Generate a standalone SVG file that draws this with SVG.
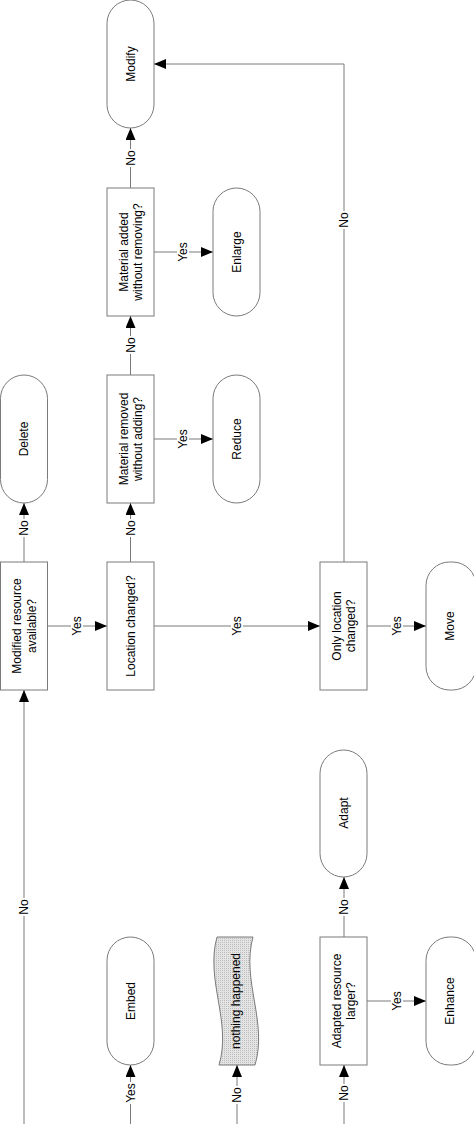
<svg xmlns="http://www.w3.org/2000/svg" width="474" height="1124" viewBox="0 0 474 1124">
<style>
.n{fill:#fff;stroke:#7a7a7a;stroke-width:1}
.t{font-family:"Liberation Sans",Arial,sans-serif;font-size:12px;fill:#000;text-anchor:middle;dominant-baseline:central}
.e{fill:none;stroke:#7a7a7a;stroke-width:1}
.a{marker-end:url(#ah)}
.lb{fill:#fff}
</style>
<defs>
<marker id="ah" markerWidth="12" markerHeight="10" refX="12" refY="5" orient="auto" markerUnits="userSpaceOnUse">
<path d="M0,0 L12,5 L0,10 Z" fill="#000"/>
</marker>
<pattern id="dots" width="2" height="2" patternUnits="userSpaceOnUse">
<rect width="2" height="2" fill="#e4e4e4"/>
<rect width="1" height="1" fill="#bdbdbd"/>
</pattern>
</defs>

<g id="connectors">
<path class="e a" d="M130.5,188 V128"/>
<path class="e a" d="M154,252 H213"/>
<path class="e a" d="M130.5,375 V316"/>
<path class="e a" d="M154,439 H213"/>
<path class="e a" d="M130.5,562 V503"/>
<path class="e a" d="M24,562 V503"/>
<path class="e a" d="M48,626 H107"/>
<path class="e a" d="M154,626 H320"/>
<path class="e a" d="M344,562 V64 H154"/>
<path class="e a" d="M367,626 H426"/>
<path class="e a" d="M24,1124 V690"/>
<path class="e a" d="M130.5,1124 V1065"/>
<path class="e a" d="M237,1124 V1065"/>
<path class="e a" d="M344,1124 V1065"/>
<path class="e a" d="M344,937 V877"/>
<path class="e a" d="M367,1001 H426"/>
<g id="labels">
<g transform="translate(130.5,158) rotate(-90)"><rect class="lb" x="-9" y="-6" width="18" height="12"/><text class="t">No</text></g>
<g transform="translate(183,252) rotate(-90)"><rect class="lb" x="-11" y="-6" width="22" height="12"/><text class="t">Yes</text></g>
<g transform="translate(130.5,345) rotate(-90)"><rect class="lb" x="-9" y="-6" width="18" height="12"/><text class="t">No</text></g>
<g transform="translate(183,439) rotate(-90)"><rect class="lb" x="-11" y="-6" width="22" height="12"/><text class="t">Yes</text></g>
<g transform="translate(130.5,528) rotate(-90)"><rect class="lb" x="-9" y="-6" width="18" height="12"/><text class="t">No</text></g>
<g transform="translate(24,528) rotate(-90)"><rect class="lb" x="-9" y="-6" width="18" height="12"/><text class="t">No</text></g>
<g transform="translate(77,626) rotate(-90)"><rect class="lb" x="-11" y="-6" width="22" height="12"/><text class="t">Yes</text></g>
<g transform="translate(237,626) rotate(-90)"><rect class="lb" x="-11" y="-6" width="22" height="12"/><text class="t">Yes</text></g>
<g transform="translate(344,220) rotate(-90)"><rect class="lb" x="-9" y="-6" width="18" height="12"/><text class="t">No</text></g>
<g transform="translate(397,626) rotate(-90)"><rect class="lb" x="-11" y="-6" width="22" height="12"/><text class="t">Yes</text></g>
<g transform="translate(24,907) rotate(-90)"><rect class="lb" x="-9" y="-6" width="18" height="12"/><text class="t">No</text></g>
<g transform="translate(130.5,1093) rotate(-90)"><rect class="lb" x="-11" y="-6" width="22" height="12"/><text class="t">Yes</text></g>
<g transform="translate(237,1095) rotate(-90)"><rect class="lb" x="-9" y="-6" width="18" height="12"/><text class="t">No</text></g>
<g transform="translate(344,1093) rotate(-90)"><rect class="lb" x="-9" y="-6" width="18" height="12"/><text class="t">No</text></g>
<g transform="translate(344,907) rotate(-90)"><rect class="lb" x="-9" y="-6" width="18" height="12"/><text class="t">No</text></g>
<g transform="translate(397,1001) rotate(-90)"><rect class="lb" x="-11" y="-6" width="22" height="12"/><text class="t">Yes</text></g>
</g>
</g>

<g id="modify"><rect class="n" x="107" y="0" width="47" height="128" rx="23.5"/><text class="t" transform="translate(130.5,64) rotate(-90)">Modify</text></g>
<g id="material-added"><rect class="n" x="107" y="188" width="47" height="128"/><text class="t" transform="translate(130.5,252) rotate(-90)"><tspan x="0" y="-7">Material added</tspan><tspan x="0" y="7.5">without removing?</tspan></text></g>
<g id="enlarge"><rect class="n" x="213" y="188" width="47" height="128" rx="23.5"/><text class="t" transform="translate(236.5,252) rotate(-90)">Enlarge</text></g>
<g id="material-removed"><rect class="n" x="107" y="375" width="47" height="128"/><text class="t" transform="translate(130.5,439) rotate(-90)"><tspan x="0" y="-7">Material removed</tspan><tspan x="0" y="7.5">without adding?</tspan></text></g>
<g id="reduce"><rect class="n" x="213" y="375" width="47" height="128" rx="23.5"/><text class="t" transform="translate(236.5,439) rotate(-90)">Reduce</text></g>
<g id="delete"><rect class="n" x="0.5" y="375" width="47" height="128" rx="23.5"/><text class="t" transform="translate(24,439) rotate(-90)">Delete</text></g>
<g id="modified-available"><rect class="n" x="0.5" y="562" width="47" height="128"/><text class="t" transform="translate(24,626) rotate(-90)"><tspan x="0" y="-7">Modified resource</tspan><tspan x="0" y="7.5">available?</tspan></text></g>
<g id="location-changed"><rect class="n" x="107" y="562" width="47" height="128"/><text class="t" transform="translate(130.5,626) rotate(-90)">Location changed?</text></g>
<g id="only-location"><rect class="n" x="320" y="562" width="47" height="128"/><text class="t" transform="translate(343.5,626) rotate(-90)"><tspan x="0" y="-7">Only location</tspan><tspan x="0" y="7.5">changed?</tspan></text></g>
<g id="move"><rect class="n" x="426" y="562" width="50" height="128" rx="23.5"/><text class="t" transform="translate(449.5,626) rotate(-90)">Move</text></g>
<g id="adapt"><rect class="n" x="320" y="750" width="47" height="127" rx="23.5"/><text class="t" transform="translate(343.5,813) rotate(-90)">Adapt</text></g>
<g id="embed"><rect class="n" x="107" y="937" width="47" height="128" rx="23.5"/><text class="t" transform="translate(130.5,1001) rotate(-90)">Embed</text></g>
<g id="nothing-happened"><path d="M217,937 C205,980 232,1022 219,1065 L255,1065 C268,1022 241,980 253,937 Z" fill="url(#dots)" stroke="#7a7a7a" stroke-width="1"/><text class="t" transform="translate(236,1001) rotate(-90)">nothing happened</text></g>
<g id="adapted-larger"><rect class="n" x="320" y="937" width="47" height="128"/><text class="t" transform="translate(343.5,1001) rotate(-90)"><tspan x="0" y="-7">Adapted resource</tspan><tspan x="0" y="7.5">larger?</tspan></text></g>
<g id="enhance"><rect class="n" x="426" y="937" width="50" height="128" rx="23.5"/><text class="t" transform="translate(449.5,1001) rotate(-90)">Enhance</text></g>
</svg>
